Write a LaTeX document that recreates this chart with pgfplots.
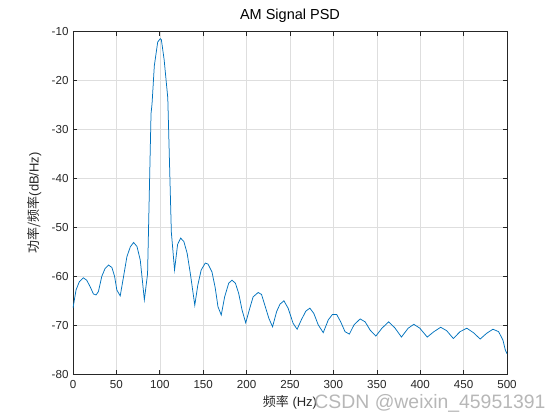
\documentclass[border=0pt]{standalone}
\usepackage{fontspec}
\setmainfont{Liberation Sans}
\newfontfamily\cjk{Noto Sans CJK SC}
\usepackage{pgfplots}
\pgfplotsset{compat=1.18}
\definecolor{mlblue}{RGB}{0,114,189}
\definecolor{axgray}{RGB}{38,38,38}
\definecolor{gridgray}{RGB}{222,222,222}
\definecolor{wmgray}{RGB}{175,175,175}
\begin{document}
\begin{tikzpicture}
\useasboundingbox (-73pt,-45.7pt) rectangle (487pt,374.3pt);
\begin{axis}[
  at={(0,0)}, anchor=south west,
  scale only axis, width=434pt, height=343pt,
  xmin=0, xmax=500, ymin=-80, ymax=-10,
  xtick={0,50,...,500}, ytick={-80,-70,...,-10},
  xtick pos=both, ytick pos=both,
  tick align=inside, major tick length=4.3pt,
  grid=major, grid style={gridgray, line width=0.5pt},
  axis line style={axgray, line width=0.6pt},
  tick style={axgray, line width=0.6pt},
  /pgf/number format/assume math mode=true,
  ticklabel style={font=\fontsize{11.6}{13}\selectfont, text=axgray},
  xticklabel style={yshift=-3pt},
  yticklabel style={xshift=-1pt},
  title={AM Signal PSD},
  title style={at={(axis description cs:0.5,1)}, anchor=center, yshift=9.5pt, font=\fontsize{14.5}{16}\selectfont, text=black},
  xlabel={{\cjk 频率} (Hz)},
  xlabel style={at={(axis description cs:0.5,-0.082)}, anchor=center, font=\fontsize{13}{15}\selectfont, text=axgray},
  ylabel={{\cjk 功率/频率}(dB/Hz)},
  ylabel style={at={(axis description cs:-0.089,0.5)}, anchor=center, font=\fontsize{13}{15}\selectfont, text=axgray},
]
\addplot[mlblue, line width=0.75pt] coordinates {
(0,-66.5) (3.5,-62.8) (7.3,-61.1) (11.9,-60.3) (15.8,-60.8) (19.7,-62.1) (23.5,-63.6) (26.6,-63.8)
(29.3,-63.1) (33.2,-60.0) (37.0,-58.4) (40.9,-57.7) (44.8,-58.2) (47.9,-60.0) (50.5,-62.8) (54.4,-64.0)
(58.3,-60.0) (62.1,-56.0) (66.0,-54.0) (69.8,-53.1) (73.7,-53.9) (77.5,-56.7) (79.9,-60.8) (82.2,-64.8)
(85.9,-59.5) (89.9,-26.8) (91.1,-24.7) (93.7,-17.0) (97.6,-12.2) (100.5,-11.5) (101.8,-11.7) (105.0,-15.8)
(109.2,-23.6) (113.3,-51.0) (117.0,-58.7) (120.5,-53.5) (124.0,-52.2) (127.7,-52.9) (131.5,-55.3) (135.4,-59.7)
(140.3,-65.9) (143.8,-61.8) (147.7,-58.7) (152.4,-57.3) (155.5,-57.5) (160.1,-59.1) (163.9,-62.4) (167.0,-66.2)
(170.8,-67.9) (174.7,-64.2) (179.4,-61.4) (183.2,-60.8) (187.1,-61.4) (190.9,-63.5) (194.8,-66.9) (199.0,-69.5)
(203.7,-66.5) (207.5,-64.2) (213.3,-63.3) (217.2,-63.7) (221.0,-65.9) (225.7,-68.6) (229.9,-70.3) (234.6,-67.2)
(238.4,-65.7) (243.0,-65.0) (247.8,-66.5) (253.6,-69.6) (258.2,-70.8) (263.3,-68.8) (268.3,-67.1) (272.9,-66.5)
(277.5,-67.6) (282.5,-69.9) (288.3,-71.5) (294.1,-68.9) (298.8,-67.8) (303.8,-67.8) (308.4,-69.3) (313.4,-71.3)
(318.4,-71.8) (323.8,-69.9) (330.8,-68.7) (336.6,-69.3) (342.4,-71.0) (348.9,-72.2) (355.9,-70.6) (363.6,-69.3)
(370.7,-70.5) (378.4,-72.4) (386.1,-70.6) (392.7,-69.8) (399.6,-70.6) (408.1,-72.4) (415.8,-71.3) (423.6,-70.4)
(430.5,-71.1) (438.2,-72.7) (445.9,-71.3) (453.7,-70.6) (461.3,-71.5) (469.1,-72.8) (476.8,-71.6) (483.8,-70.8)
(490.3,-71.3) (495.3,-73.0) (498.0,-75.0) (500,-75.8)
};
\end{axis}
\node[text=wmgray, font=\fontsize{19.4}{21}\selectfont, anchor=center, opacity=0.9] at (357pt,-28.7pt) {CSDN @weixin\_45951391};
\end{tikzpicture}
\end{document}
